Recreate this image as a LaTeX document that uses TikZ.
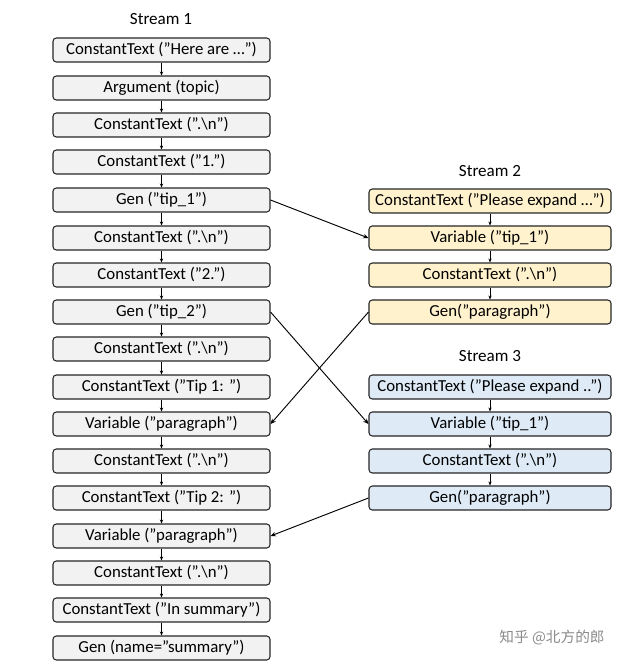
\documentclass[tikz,border=0pt]{standalone}
\usepackage{fontspec}
\setmainfont{Carlito}
\newfontfamily\cjk{Noto Sans CJK SC}
\usetikzlibrary{arrows.meta}
\definecolor{gfill}{HTML}{F2F2F2}
\definecolor{yfill}{HTML}{FFF2CC}
\definecolor{bfill}{HTML}{DEEBF7}
\newcommand{\qq}{\symbol{34}}
\begin{document}
\begin{tikzpicture}[x=0.75pt,y=-0.75pt,
  box/.style={draw=black!85,line width=0.8pt,rounded corners=2.5pt,minimum height=18pt,font=\fontsize{12.6}{14}\selectfont,inner sep=0pt},
  lbox/.style={box,fill=gfill,minimum width=162.75pt},
  rbox/.style={box,minimum width=181.5pt},
  ybox/.style={rbox,fill=yfill},
  bbox/.style={rbox,fill=bfill},
  title/.style={font=\fontsize{12.8}{14}\selectfont},
  arr/.style={-{Stealth[length=3pt,width=2.5pt]},line width=0.6pt},
  link/.style={-{Stealth[length=4pt,width=3.5pt]},line width=0.7pt}]
\useasboundingbox (0,0) rectangle (637,667);
\fill[white] (0,0) rectangle (637,667);
\node[title] (t1) at (161,19) {Stream 1};
\foreach \i/\y/\t in {1/50/{ConstantText (\qq Here are \ldots\qq)},2/88/{Argument (topic)},3/125/{ConstantText (\qq.\textbackslash n\qq)},4/162/{ConstantText (\qq 1.\qq)},5/200/{Gen (\qq tip\_1\qq)},6/238/{ConstantText (\qq.\textbackslash n\qq)},7/275/{ConstantText (”2.\qq)},8/312/{Gen (\qq tip\_2\qq)},9/349/{ConstantText (\qq.\textbackslash n\qq)},10/387/{ConstantText (\qq Tip 1: \qq)},11/424/{Variable (\qq paragraph\qq)},12/461/{ConstantText (\qq.\textbackslash n\qq)},13/498/{ConstantText (\qq Tip 2: \qq)},14/536/{Variable (\qq paragraph\qq)},15/573/{ConstantText (\qq.\textbackslash n\qq)},16/610/{ConstantText (\qq In summary\qq)},17/648/{Gen (name=\qq summary\qq)}}
  \node[lbox] (a\i) at (161.5,\y) {\t};
\foreach \i [evaluate=\i as \j using int(\i+1)] in {1,...,16} \draw[arr] (a\i) -- (a\j);
\node[title] (t2) at (490,171) {Stream 2};
\node[ybox] (b1) at (490,201) {ConstantText (\qq Please expand \ldots\qq)};
\node[ybox] (b2) at (490,238) {Variable (\qq tip\_1\qq)};
\node[ybox] (b3) at (490,275) {ConstantText (\qq.\textbackslash n\qq)};
\node[ybox] (b4) at (490,312) {Gen(\qq paragraph”)};
\node[title] (t3) at (490,356) {Stream 3};
\node[bbox] (c1) at (490,387) {ConstantText (\qq Please expand ..\qq)};
\node[bbox] (c2) at (490,424) {Variable (\qq tip\_1\qq)};
\node[bbox] (c3) at (490,461) {ConstantText (\qq.\textbackslash n\qq)};
\node[bbox] (c4) at (490,498) {Gen(\qq paragraph”)};
\foreach \p in {b,c}{
  \draw[arr] (\p1) -- (\p2); \draw[arr] (\p2) -- (\p3); \draw[arr] (\p3) -- (\p4);}
\draw[link] (a5.east) -- (b2.west);
\draw[link] (a8.east) -- (c2.west);
\draw[link] (b4.west) -- (a11.east);
\draw[link] (c4.west) -- (a14.east);
\node[text=black!45,font=\cjk\fontsize{11}{13}\selectfont] (wm) at (552,638) {知乎 @北方的郎};
\end{tikzpicture}
\end{document}
